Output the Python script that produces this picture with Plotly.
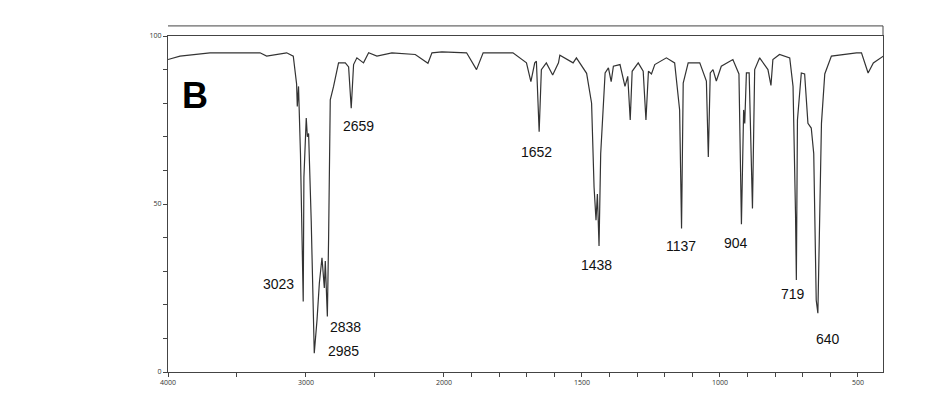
import plotly.graph_objects as go

# spectrum: wavenumber (cm-1) and transmittance (%)
wavenumber = [4000, 3913, 3696, 3333, 3285, 3140, 3092, 3068, 3063, 3054, 3040, 3020, 3015,
              2998, 2990, 2981, 2962, 2940, 2920, 2903, 2884, 2867, 2860, 2845, 2836, 2824,
              2800, 2764, 2715, 2691, 2672, 2655, 2631, 2583, 2546, 2486, 2377, 2208, 2116,
              2087, 2015, 1918, 1882, 1858, 1750, 1701, 1685, 1671, 1665, 1655, 1647, 1629,
              1606, 1585, 1580, 1532, 1520, 1483, 1465, 1456, 1449, 1444, 1438, 1432, 1416,
              1404, 1394, 1386, 1362, 1344, 1334, 1325, 1318, 1296, 1278, 1268, 1259, 1248,
              1236, 1194, 1164, 1146, 1139, 1133, 1115, 1073, 1049, 1042, 1035, 1025, 1013,
              995, 953, 931, 922, 914, 910, 904, 894, 882, 874, 856, 826, 815, 808, 784, 747,
              735, 726, 723, 719, 705, 693, 681, 669, 660, 651, 645, 640, 632, 620, 596, 505,
              487, 463, 444, 408]
transmittance = [93, 94, 95, 95, 94, 95, 94, 85.7, 79, 85, 65, 21, 58,
                 75.6, 70, 71, 45, 5.6, 15.5, 26.5, 34, 25, 33, 16.5, 40, 81,
                 85, 92, 92, 90.8, 78.5, 91.5, 93.5, 92, 95, 94, 95, 94.5, 91.9,
                 95, 95.3, 95, 90, 95, 95, 92, 86.4, 92, 92.5, 71.5, 90, 92,
                 88.4, 92, 94.3, 92, 93.5, 88.9, 80, 55, 45.2, 53, 37.5, 65, 89,
                 90.5, 86.4, 91, 91.5, 85, 88, 75, 89.5, 92, 89.5, 75, 89.5, 88.7,
                 91.5, 93.5, 92, 78, 42.7, 86, 92, 92, 86.6, 64, 89, 90, 86.6,
                 91, 93, 88.7, 44, 78, 74, 89, 89, 48.7, 90, 93.5, 90, 85.3, 93, 94.5, 93.5,
                 85, 47, 27.4, 75, 89, 88.7, 74, 72.6, 65, 21.4, 17.5, 39, 74, 88.7, 94, 95,
                 95, 89, 92, 94]

peak_labels = ["2659", "1652", "1438", "1137", "904", "719", "640", "3023", "2838", "2985"]
label_x = [0.266, 0.516, 0.599, 0.717, 0.794, 0.874, 0.923, 0.155, 0.248, 0.245]
label_y = [0.732, 0.655, 0.318, 0.375, 0.384, 0.232, 0.098, 0.262, 0.134, 0.062]


# chart scale halves at 2000 cm-1, so map wavenumber onto a linear position
def pos(w):
    return 4000 - w if w >= 2000 else 2000 + 2 * (2000 - w)


tick_w = [4000, 3500, 3000, 2500, 2000] + list(range(1900, 400, -100))
tick_text = [str(w) if w in (4000, 3000, 2000, 1500, 1000, 500) else "" for w in tick_w]

fig = go.Figure(go.Scatter(
    x=[pos(w) for w in wavenumber],
    y=transmittance,
    mode="lines",
    line=dict(color="#333333", width=1.2),
))

for text, x, y in zip(peak_labels, label_x, label_y):
    fig.add_annotation(text=text, x=x, y=y, xref="paper", yref="paper", showarrow=False,
                       xanchor="center", yanchor="middle",
                       font=dict(family="Arial, Liberation Sans", size=14, color="#111111"))

fig.add_annotation(text="<b>B</b>", x=0.038, y=0.824, xref="paper", yref="paper",
                   showarrow=False, xanchor="center", yanchor="middle",
                   font=dict(family="Arial, Liberation Sans", size=36, color="black"))

# second frame line above the plot
fig.add_shape(type="line", xref="paper", yref="paper", x0=0, x1=1, y0=1.03, y1=1.03,
              line=dict(color="#444444", width=1))
fig.add_shape(type="line", xref="paper", yref="paper", x0=1, x1=1, y0=1.0, y1=1.03,
              line=dict(color="#444444", width=1))

# page body has an 8px margin, so size the figure to fit inside the window
fig.update_layout(
    width=927, height=399,
    margin=dict(l=160, r=52, t=28, b=35),
    plot_bgcolor="white", paper_bgcolor="white",
    showlegend=False,
    xaxis=dict(range=[pos(4000), pos(409)], tickvals=[pos(w) for w in tick_w], ticktext=tick_text,
               ticks="outside", ticklen=4, tickcolor="#444444", showgrid=False, zeroline=False,
               showline=True, linecolor="#444444", mirror=True,
               tickfont=dict(size=7, color="#333333")),
    yaxis=dict(range=[0, 100], tickvals=list(range(0, 101, 10)),
               ticktext=["0", "", "", "", "", "50", "", "", "", "", "100"],
               ticks="outside", ticklen=4, tickcolor="#444444", showgrid=False, zeroline=False,
               showline=True, linecolor="#444444", mirror=True,
               tickfont=dict(size=7, color="#333333")),
)

fig.write_html("out.html")
